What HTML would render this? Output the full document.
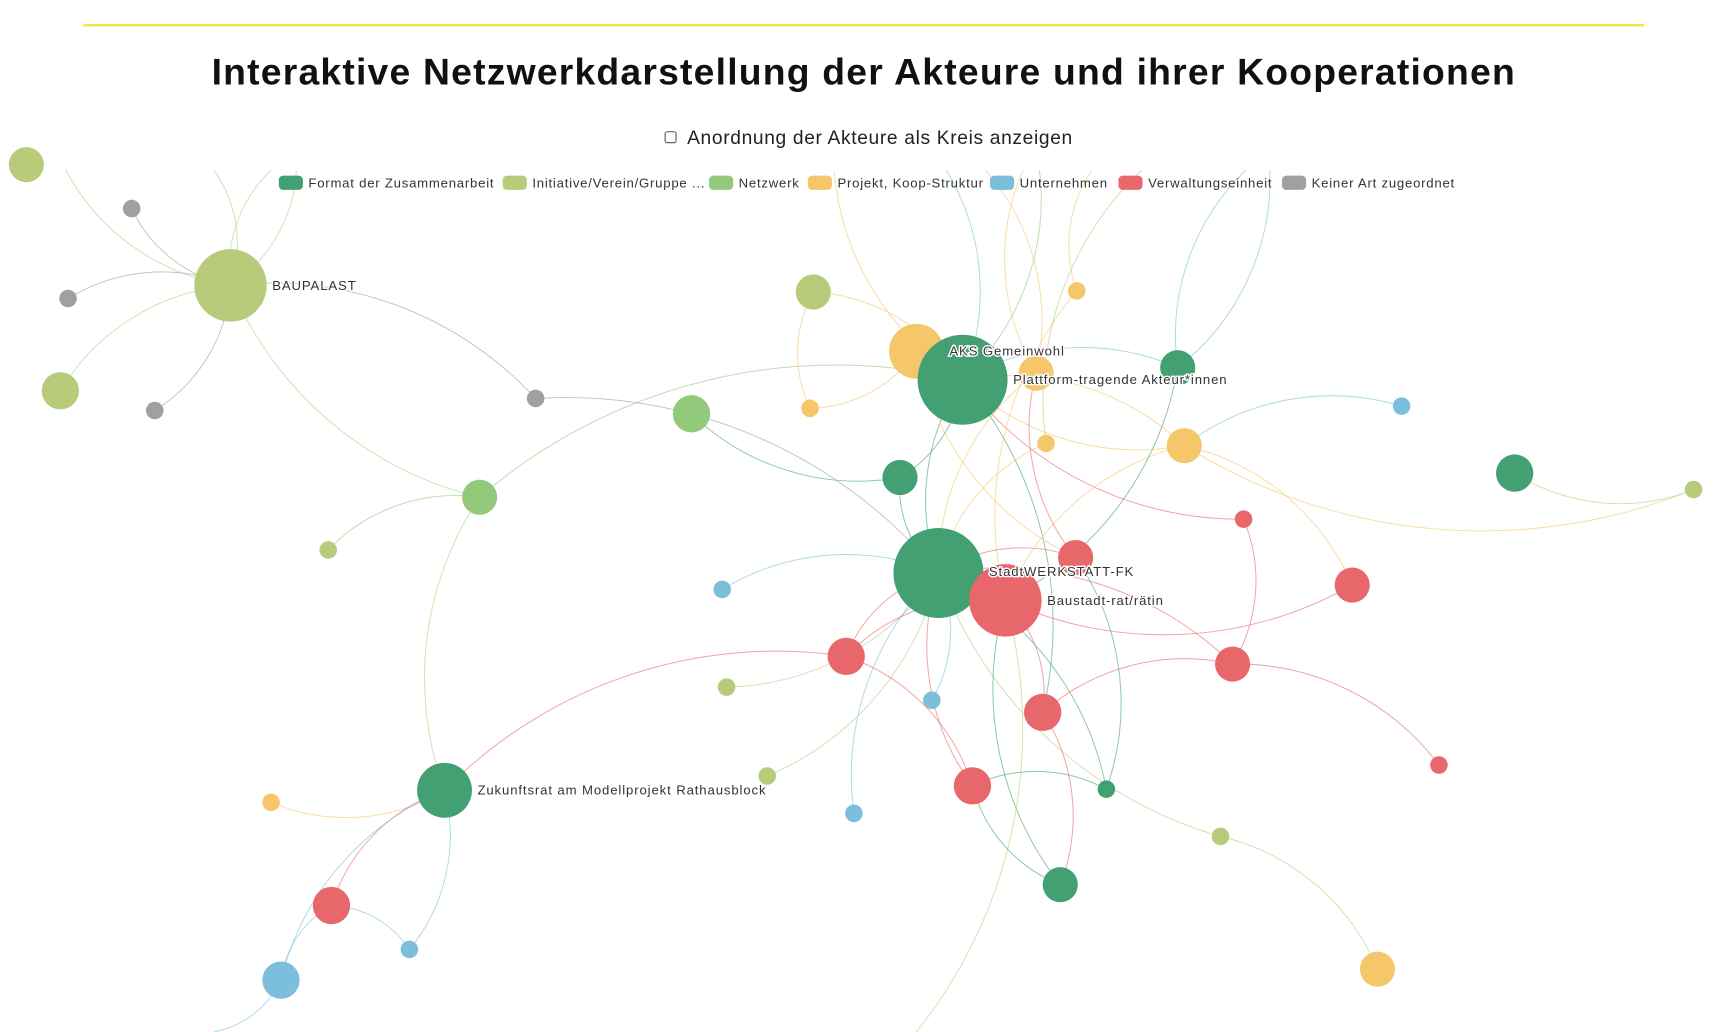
<!DOCTYPE html>
<html><head><meta charset="utf-8"><style>
html,body{margin:0;padding:0;background:#fff;width:1721px;height:1032px;overflow:hidden}
svg{display:block}
text{font-family:"Liberation Sans",sans-serif}
</style></head><body>
<svg id="s" width="1721" height="1032" viewBox="0 0 1568 940.2" xmlns="http://www.w3.org/2000/svg">
<line x1="76" y1="23" x2="1498" y2="23" stroke="#f3e33a" stroke-width="2"/>
<text x="787" y="77" text-anchor="middle" font-size="34" font-weight="bold" fill="#111" letter-spacing="1.1">Interaktive Netzwerkdarstellung der Akteure und ihrer Kooperationen</text>
<rect x="606" y="120" width="10" height="10" rx="2" fill="#fff" stroke="#555" stroke-width="1"/>
<text x="626" y="131" font-size="17.5" fill="#222" letter-spacing="0.6">Anordnung der Akteure als Kreis anzeigen</text>
<g id="edges" fill="none" stroke-width="0.9"></g>
<g id="nodes"></g>
<g font-size="12" fill="#333" letter-spacing="0.7">
<rect x="254" y="160" width="22" height="13" rx="4" fill="#43a073"/><text x="281" y="171">Format der Zusammenarbeit</text>
<rect x="458" y="160" width="22" height="13" rx="4" fill="#b8cb7b"/><text x="485" y="171">Initiative/Verein/Gruppe ...</text>
<rect x="646" y="160" width="22" height="13" rx="4" fill="#93c97b"/><text x="673" y="171">Netzwerk</text>
<rect x="736" y="160" width="22" height="13" rx="4" fill="#f6c76a"/><text x="763" y="171">Projekt, Koop-Struktur</text>
<rect x="902" y="160" width="22" height="13" rx="4" fill="#7bbfdc"/><text x="929" y="171">Unternehmen</text>
<rect x="1019" y="160" width="22" height="13" rx="4" fill="#e8676b"/><text x="1046" y="171">Verwaltungseinheit</text>
<rect x="1168" y="160" width="22" height="13" rx="4" fill="#a0a0a0"/><text x="1195" y="171">Keiner Art zugeordnet</text>
</g>
<g font-size="12" fill="#333" stroke="#fff" stroke-width="2.5" paint-order="stroke" letter-spacing="0.8">
<text x="248" y="264">BAUPALAST</text>
<text x="865" y="324">AKS Gemeinwohl</text>
<text x="923" y="350">Plattform-tragende Akteur*innen</text>
<text x="901" y="525">StadtWERKSTATT-FK</text>
<text x="954" y="551">Baustadt-rat/rätin</text>
<text x="435" y="724">Zukunftsrat am Modellprojekt Rathausblock</text>
</g>
</svg>
<script>
var C={g:"#43a073",o:"#b8cb7b",n:"#93c97b",y:"#f6c76a",b:"#7bbfdc",r:"#e8676b",k:"#a0a0a0"};
var N=[
["bau",210,260,33,"o"],["o1",24,150,16,"o"],["k1",120,190,8,"k"],["k2",62,272,8,"k"],["k3",141,374,8,"k"],["o2",55,356,17,"o"],["k4",488,363,8,"k"],
["n1",437,453,16,"n"],["o3",299,501,8,"o"],["n2",630,377,17,"n"],["o4",741,266,16,"o"],["y1",835,320,25,"y"],["aks",877,346,41,"g"],
["y2",944,340,16,"y"],["y3",981,265,8,"y"],["g1",1073,335,16,"g"],["y4",738,372,8,"y"],["y5",953,404,8,"y"],["y6",1079,406,16,"y"],
["b1",1277,370,8,"b"],["g2",1380,431,17,"g"],["o5",1543,446,8,"o"],["g3",820,435,16,"g"],["r1",1133,473,8,"r"],["r2",980,508,16,"r"],
["sw",855,522,41,"g"],["bs",916,547,33,"r"],["r3",1232,533,16,"r"],["b2",658,537,8,"b"],["r4",771,598,17,"r"],["o6",662,626,8,"o"],
["r5",1123,605,16,"r"],["b3",849,638,8,"b"],["r6",950,649,17,"r"],["r7",1311,697,8,"r"],["o7",699,707,8,"o"],["r8",886,716,17,"r"],
["g4",1008,719,8,"g"],["b4",778,741,8,"b"],["o8",1112,762,8,"o"],["g5",966,806,16,"g"],["y7",1255,883,16,"y"],["zr",405,720,25,"g"],
["y8",247,731,8,"y"],["r9",302,825,17,"r"],["b5",373,865,8,"b"],["b6",256,893,17,"b"],
["t1",195,155,0,"o"],["t2",247,155,0,"o"],["t3",270,155,0,"o"],["t4",760,155,0,"y"],["t5",862,155,0,"b"],["t6",898,155,0,"y"],["t7",932,155,0,"y"],["t8",947,155,0,"n"],["t9",995,155,0,"y"],["t10",1040,155,0,"o"],["t11",1135,155,0,"b"],["t12",1157,155,0,"b"],["t13",835,940,0,"y"],["t14",195,940,0,"b"],["t15",60,155,0,"o"]
];
var P={};N.forEach(function(n){P[n[0]]=n});
var E=[
["bau","t1","o"],["bau","t2","o"],["bau","t3","o"],["bau","k1","k"],["bau","k2","k"],["bau","k3","k"],["bau","o2","o"],["bau","k4","k"],["bau","n1","o"],["bau","t15","o"],
["n1","o3","n"],["n1","aks","n"],["n1","zr","o"],["k4","sw","k"],["n2","g3","g"],["o4","aks","y"],["o4","y4","y"],["y1","aks","y"],
["aks","t5","b"],["aks","t4","y"],["aks","t8","n"],["aks","g3","g"],["aks","sw","g"],["aks","r6","g"],["aks","r1","r"],["aks","y6","y"],
["y2","t6","y"],["y2","t7","y"],["y2","sw","y"],["y3","t9","y"],["y3","bs","y"],["g1","t11","b"],["g1","aks","b"],["g1","bs","g"],["g1","t12","b"],
["y5","t10","o"],["y5","sw","y"],["y6","b1","b"],["y6","o5","y"],["y6","r3","y"],["y6","bs","y"],["y6","aks","y"],["g2","o5","o"],["r1","r5","r"],
["r2","sw","r"],["r2","y2","r"],["sw","b2","b"],["sw","o6","o"],["sw","r4","r"],["sw","b3","b"],["sw","b4","b"],["sw","o7","o"],["sw","r8","r"],["sw","g4","g"],["sw","o8","o"],["sw","r5","r"],
["bs","r3","r"],["bs","r6","r"],["bs","g5","g"],["bs","t13","o"],["bs","r4","r"],["r5","r7","r"],["r5","r6","r"],["r4","r8","r"],["r4","zr","r"],["r8","g4","g"],["r8","g5","g"],["r6","g5","r"],["g4","r2","g"],
["zr","y8","y"],["zr","r9","r"],["zr","b5","b"],["zr","b6","b"],["r9","b5","b"],["r9","b6","b"],["b6","t14","b"],["g3","sw","g"],["y1","y4","y"],["y1","r2","y"],["o8","y7","o"]
];
var g=document.getElementById("edges"),s="";
E.forEach(function(e,i){var a=P[e[0]],b=P[e[1]];var dx=b[1]-a[1],dy=b[2]-a[2],d=Math.sqrt(dx*dx+dy*dy);var r=d*1.1;var sw=i%2;
s+='<path d="M'+a[1]+' '+a[2]+' A'+r+' '+r+' 0 0 '+sw+' '+b[1]+' '+b[2]+'" stroke="'+C[e[2]]+'" stroke-opacity="0.6"/>';});
g.innerHTML=s;
var h="";N.forEach(function(n){if(n[3]>0)h+='<circle cx="'+n[1]+'" cy="'+n[2]+'" r="'+n[3]+'" fill="'+C[n[4]]+'"/>';});
document.getElementById("nodes").innerHTML=h;
</script>
</body></html>
